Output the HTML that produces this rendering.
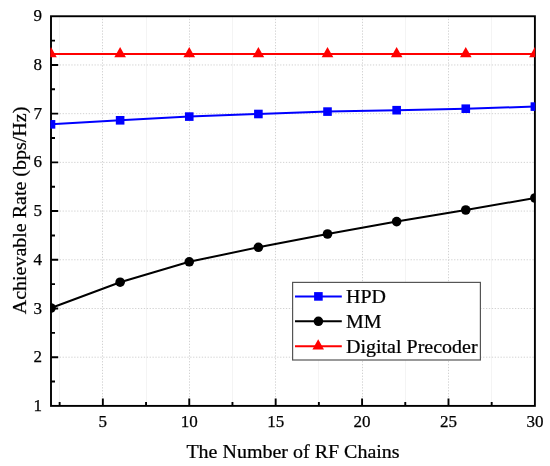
<!DOCTYPE html><html><head><meta charset="utf-8"><style>html,body{margin:0;padding:0;background:#fff;}svg{display:block;}text{font-family:"Liberation Serif","Times New Roman",serif;fill:#000;stroke:#000;stroke-width:0.25px;}</style></head><body>
<svg width="550" height="466" viewBox="0 0 550 466">
<rect x="0" y="0" width="550" height="466" fill="#fff"/>
<defs><clipPath id="c"><rect x="50.30" y="15.45" width="484.90" height="391.25"/></clipPath></defs>
<g stroke="#f4f4f4" stroke-width="1"><line x1="59.50" y1="16.25" x2="59.50" y2="405.90"/><line x1="146.50" y1="16.25" x2="146.50" y2="405.90"/><line x1="232.50" y1="16.25" x2="232.50" y2="405.90"/><line x1="318.50" y1="16.25" x2="318.50" y2="405.90"/><line x1="405.50" y1="16.25" x2="405.50" y2="405.90"/><line x1="491.50" y1="16.25" x2="491.50" y2="405.90"/></g>
<g stroke="#d2d2d2" stroke-width="1" stroke-dasharray="1.3 1.6"><line x1="102.50" y1="405.90" x2="102.50" y2="16.25"/><line x1="189.50" y1="405.90" x2="189.50" y2="16.25"/><line x1="275.50" y1="405.90" x2="275.50" y2="16.25"/><line x1="362.50" y1="405.90" x2="362.50" y2="16.25"/><line x1="448.50" y1="405.90" x2="448.50" y2="16.25"/><line x1="51.00" y1="357.19" x2="534.90" y2="357.19"/><line x1="51.00" y1="308.49" x2="534.90" y2="308.49"/><line x1="51.00" y1="259.78" x2="534.90" y2="259.78"/><line x1="51.00" y1="211.07" x2="534.90" y2="211.07"/><line x1="51.00" y1="162.37" x2="534.90" y2="162.37"/><line x1="51.00" y1="113.66" x2="534.90" y2="113.66"/><line x1="51.00" y1="64.96" x2="534.90" y2="64.96"/></g>
<rect x="51.00" y="16.25" width="483.90" height="389.65" fill="none" stroke="#000" stroke-width="1.90"/>
<path d="M102.85 405.90V398.40M189.26 405.90V398.40M275.67 405.90V398.40M362.08 405.90V398.40M448.49 405.90V398.40M59.64 405.90V401.90M146.05 405.90V401.90M232.46 405.90V401.90M318.87 405.90V401.90M405.28 405.90V401.90M491.69 405.90V401.90M51.00 357.19H58.20M51.00 308.49H58.20M51.00 259.78H58.20M51.00 211.07H58.20M51.00 162.37H58.20M51.00 113.66H58.20M51.00 64.96H58.20M51.00 381.55H55.00M51.00 332.84H55.00M51.00 284.13H55.00M51.00 235.43H55.00M51.00 186.72H55.00M51.00 138.02H55.00M51.00 89.31H55.00M51.00 40.60H55.00" stroke="#000" stroke-width="1.90" fill="none"/>
<g font-size="17"><text x="102.85" y="427" text-anchor="middle">5</text><text x="189.26" y="427" text-anchor="middle">10</text><text x="275.67" y="427" text-anchor="middle">15</text><text x="362.08" y="427" text-anchor="middle">20</text><text x="448.49" y="427" text-anchor="middle">25</text><text x="534.90" y="427" text-anchor="middle">30</text><text x="42" y="411.00" text-anchor="end">1</text><text x="42" y="362.29" text-anchor="end">2</text><text x="42" y="313.59" text-anchor="end">3</text><text x="42" y="264.88" text-anchor="end">4</text><text x="42" y="216.17" text-anchor="end">5</text><text x="42" y="167.47" text-anchor="end">6</text><text x="42" y="118.76" text-anchor="end">7</text><text x="42" y="70.06" text-anchor="end">8</text><text x="42" y="21.35" text-anchor="end">9</text></g>
<text transform="translate(293,458.4) scale(1,0.955)" font-size="20" text-anchor="middle">The Number of RF Chains</text>
<text transform="translate(25.8,210.5) rotate(-90) scale(1,0.955)" font-size="20" text-anchor="middle">Achievable Rate (bps/Hz)</text>
<g clip-path="url(#c)"><polyline points="51.00,308.00 120.13,282.20 189.26,261.80 258.39,247.30 327.51,234.00 396.64,221.60 465.77,210.00 534.90,198.00" fill="none" stroke="#000" stroke-width="2"/><polyline points="51.00,124.35 120.13,120.30 189.26,116.60 258.39,114.00 327.51,111.60 396.64,110.20 465.77,108.70 534.90,106.60" fill="none" stroke="#0000ff" stroke-width="2"/><polyline points="51.00,53.90 120.13,53.90 189.26,53.90 258.39,53.90 327.51,53.90 396.64,53.90 465.77,53.90 534.90,53.90" fill="none" stroke="#ff0000" stroke-width="2"/><circle cx="51.00" cy="308.00" r="4.8" fill="#000"/><circle cx="120.13" cy="282.20" r="4.8" fill="#000"/><circle cx="189.26" cy="261.80" r="4.8" fill="#000"/><circle cx="258.39" cy="247.30" r="4.8" fill="#000"/><circle cx="327.51" cy="234.00" r="4.8" fill="#000"/><circle cx="396.64" cy="221.60" r="4.8" fill="#000"/><circle cx="465.77" cy="210.00" r="4.8" fill="#000"/><circle cx="534.90" cy="198.00" r="4.8" fill="#000"/><rect x="46.70" y="120.05" width="8.6" height="8.6" fill="#0000ff"/><rect x="115.83" y="116.00" width="8.6" height="8.6" fill="#0000ff"/><rect x="184.96" y="112.30" width="8.6" height="8.6" fill="#0000ff"/><rect x="254.09" y="109.70" width="8.6" height="8.6" fill="#0000ff"/><rect x="323.21" y="107.30" width="8.6" height="8.6" fill="#0000ff"/><rect x="392.34" y="105.90" width="8.6" height="8.6" fill="#0000ff"/><rect x="461.47" y="104.40" width="8.6" height="8.6" fill="#0000ff"/><rect x="530.60" y="102.30" width="8.6" height="8.6" fill="#0000ff"/><polygon points="51.00,47.00 56.80,57.30 45.20,57.30" fill="#ff0000"/><polygon points="120.13,47.00 125.93,57.30 114.33,57.30" fill="#ff0000"/><polygon points="189.26,47.00 195.06,57.30 183.46,57.30" fill="#ff0000"/><polygon points="258.39,47.00 264.19,57.30 252.59,57.30" fill="#ff0000"/><polygon points="327.51,47.00 333.31,57.30 321.71,57.30" fill="#ff0000"/><polygon points="396.64,47.00 402.44,57.30 390.84,57.30" fill="#ff0000"/><polygon points="465.77,47.00 471.57,57.30 459.97,57.30" fill="#ff0000"/><polygon points="534.90,47.00 540.70,57.30 529.10,57.30" fill="#ff0000"/></g>
<rect x="292.6" y="282.4" width="187.8" height="77.6" fill="#fff" stroke="#555" stroke-width="1.2"/>
<line x1="295" y1="296.40" x2="341.8" y2="296.40" stroke="#0000ff" stroke-width="2"/>
<rect x="314.10" y="292.10" width="8.6" height="8.6" fill="#0000ff"/>
<line x1="295" y1="321.30" x2="341.8" y2="321.30" stroke="#000" stroke-width="2"/>
<circle cx="318.4" cy="321.30" r="4.8" fill="#000"/>
<line x1="295" y1="346.20" x2="341.8" y2="346.20" stroke="#ff0000" stroke-width="2"/>
<polygon points="318.20,339.30 324.00,349.60 312.40,349.60" fill="#ff0000"/>
<g font-size="20"><text transform="translate(346,303.2) scale(1,0.955)">HPD</text><text transform="translate(346,328.0) scale(1,0.955)">MM</text><text transform="translate(346,353.0) scale(1,0.955)">Digital Precoder</text></g>
</svg></body></html>
